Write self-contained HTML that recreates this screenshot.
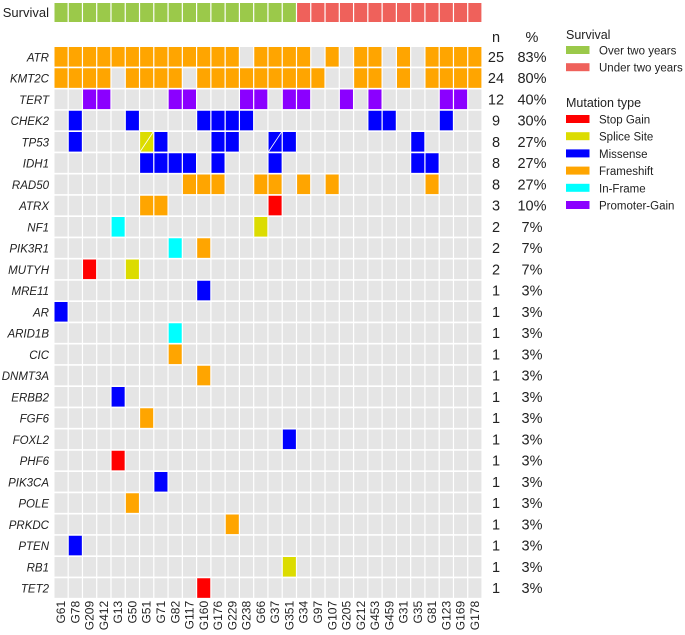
<!DOCTYPE html>
<html><head><meta charset="utf-8"><style>
html,body{margin:0;padding:0;background:#fff;}
svg{display:block;font-family:"Liberation Sans",Arial,sans-serif;}
</style></head><body>
<svg id="chart" width="685" height="635" viewBox="0 0 685 635" xmlns="http://www.w3.org/2000/svg"></svg>
<script>
const samples = ["G61","G78","G209","G412","G13","G50","G51","G71","G82","G117","G160","G176","G229","G238","G66","G37","G351","G34","G97","G107","G205","G212","G453","G459","G31","G35","G81","G123","G169","G178"];
const survival = [0,0,0,0,0,0,0,0,0,0,0,0,0,0,0,0,0,1,1,1,1,1,1,1,1,1,1,1,1,1];
const genes = ["ATR","KMT2C","TERT","CHEK2","TP53","IDH1","RAD50","ATRX","NF1","PIK3R1","MUTYH","MRE11","AR","ARID1B","CIC","DNMT3A","ERBB2","FGF6","FOXL2","PHF6","PIK3CA","POLE","PRKDC","PTEN","RB1","TET2"];
const mutations = [
 [[1,"F"],[2,"F"],[3,"F"],[4,"F"],[5,"F"],[6,"F"],[7,"F"],[8,"F"],[9,"F"],[10,"F"],[11,"F"],[12,"F"],[13,"F"],[15,"F"],[16,"F"],[17,"F"],[18,"F"],[20,"F"],[22,"F"],[23,"F"],[25,"F"],[27,"F"],[28,"F"],[29,"F"],[30,"F"]],
 [[1,"F"],[2,"F"],[3,"F"],[4,"F"],[6,"F"],[7,"F"],[8,"F"],[9,"F"],[11,"F"],[12,"F"],[13,"F"],[14,"F"],[15,"F"],[16,"F"],[17,"F"],[18,"F"],[19,"F"],[22,"F"],[23,"F"],[25,"F"],[27,"F"],[28,"F"],[29,"F"],[30,"F"]],
 [[3,"P"],[4,"P"],[9,"P"],[10,"P"],[14,"P"],[15,"P"],[17,"P"],[18,"P"],[21,"P"],[23,"P"],[28,"P"],[29,"P"]],
 [[2,"M"],[6,"M"],[11,"M"],[12,"M"],[13,"M"],[14,"M"],[23,"M"],[24,"M"],[28,"M"]],
 [[2,"M"],[7,"S",1],[8,"M"],[12,"M"],[13,"M"],[16,"M",1],[17,"M"],[26,"M"]],
 [[7,"M"],[8,"M"],[9,"M"],[10,"M"],[12,"M"],[16,"M"],[26,"M"],[27,"M"]],
 [[10,"F"],[11,"F"],[12,"F"],[15,"F"],[16,"F"],[18,"F"],[20,"F"],[27,"F"]],
 [[7,"F"],[8,"F"],[16,"X"]],
 [[5,"I"],[15,"S"]],
 [[9,"I"],[11,"F"]],
 [[3,"X"],[6,"S"]],
 [[11,"M"]],
 [[1,"M"]],
 [[9,"I"]],
 [[9,"F"]],
 [[11,"F"]],
 [[5,"M"]],
 [[7,"F"]],
 [[17,"M"]],
 [[5,"X"]],
 [[8,"M"]],
 [[6,"F"]],
 [[13,"F"]],
 [[2,"M"]],
 [[17,"S"]],
 [[11,"X"]]
];
const counts = [25,24,12,9,8,8,8,3,2,2,2,1,1,1,1,1,1,1,1,1,1,1,1,1,1,1];
const pcts = ["83%","80%","40%","30%","27%","27%","27%","10%","7%","7%","7%","3%","3%","3%","3%","3%","3%","3%","3%","3%","3%","3%","3%","3%","3%","3%"];
const mutTypes = ["X","S","M","F","I","P"];
const mutLabels = ["Stop Gain","Splice Site","Missense","Frameshift","In-Frame","Promoter-Gain"];
const survLabels = ["Over two years","Under two years"];

const colors = {X:"#FF0000",S:"#DCDC00",M:"#0000FF",F:"#FFA500",I:"#00FFFF",P:"#8B00FF"};
const survColors = ["#9BC94A","#EF615B"];
const NS = "http://www.w3.org/2000/svg";
const svg = document.getElementById("chart");
const x0 = 54, colW = 14.27, y0 = 47, rowH = 21.25, cellH = 19.6;
const xs = i => x0 + colW * i;
const ys = r => y0 + rowH * r;
function mk(tag, attrs, parent){ const e=document.createElementNS(NS,tag); for(const k in attrs) e.setAttribute(k,attrs[k]); (parent||svg).appendChild(e); return e; }

const gS = mk("g",{});


const sl = mk("text",{x:49,y:17,"text-anchor":"end","font-size":"13",fill:"#222"},gS);
sl.textContent="Survival";


survival.forEach((v,i)=>{
  const r = mk("rect",{x:xs(i)+0.5,y:3,width:colW-1.2,height:19,fill:survColors[v]},gS);
  
  
});

const gG = mk("g",{});


genes.forEach((g,r)=>{
  const y = ys(r);
  const lab = mk("text",{x:49,y:y+cellH/2+4.5,"text-anchor":"end","font-size":"11.5","font-style":"italic",fill:"#222"},gG);
  lab.textContent = g;
  
  
  const map = {};
  mutations[r].forEach(m=>{ map[m[0]-1]=m; });
  for(let i=0;i<samples.length;i++){
    const m = map[i];
    const fill = m ? colors[m[1]] : "#E5E5E5";
    const c = mk("rect",{x:xs(i)+0.5,y:y,width:colW-1.2,height:cellH,fill:fill},gG);
    
    
    if(m && m[2]){
      const ln = mk("line",{x1:xs(i)+0.5,y1:y+cellH,x2:xs(i)+colW-0.7,y2:y,stroke:"#fff","stroke-width":"0.8"},gG);
      
      
    }
  }
  const n = mk("text",{x:496,y:y+cellH/2+5,"text-anchor":"middle","font-size":"14.5",fill:"#222"},gG);
  n.textContent = counts[r];
  
  
  const p = mk("text",{x:532,y:y+cellH/2+5,"text-anchor":"middle","font-size":"14.5",fill:"#222"},gG);
  p.textContent = pcts[r];
  
  
});
const nh = mk("text",{x:496,y:42,"text-anchor":"middle","font-size":"14.5",fill:"#222"});
nh.textContent="n";


const ph = mk("text",{x:532,y:42,"text-anchor":"middle","font-size":"14.5",fill:"#222"});
ph.textContent="%";



const yb = ys(genes.length-1)+cellH+3;
samples.forEach((s,i)=>{
  const cx = xs(i)+colW/2+4;
  const t = mk("text",{x:cx,y:yb,"text-anchor":"end","font-size":"12",fill:"#222",transform:`rotate(-90 ${cx} ${yb})`});
  t.textContent = s;
  
  
});

const gL = mk("g",{});


const lt1 = mk("text",{x:566,y:39,"font-size":"12.5",fill:"#222"},gL);
lt1.textContent="Survival";


survLabels.forEach((l,k)=>{
  const yy = 46 + k*17.2;
  const r = mk("rect",{x:566,y:yy,width:23.5,height:8,fill:survColors[k]},gL);
  
  
  const t = mk("text",{x:599,y:yy+8.5,"font-size":"11.5",fill:"#222"},gL);
  t.textContent=l;
  
  
});
const lt2 = mk("text",{x:566,y:107,"font-size":"12.5",fill:"#222"},gL);
lt2.textContent="Mutation type";


mutTypes.forEach((m,k)=>{
  const yy = 115 + k*17.2;
  const r = mk("rect",{x:566,y:yy,width:23.5,height:8,fill:colors[m]},gL);
  
  
  const t = mk("text",{x:599,y:yy+8.5,"font-size":"11.5",fill:"#222"},gL);
  t.textContent=mutLabels[k];
  
  
});
</script>
</body></html>
